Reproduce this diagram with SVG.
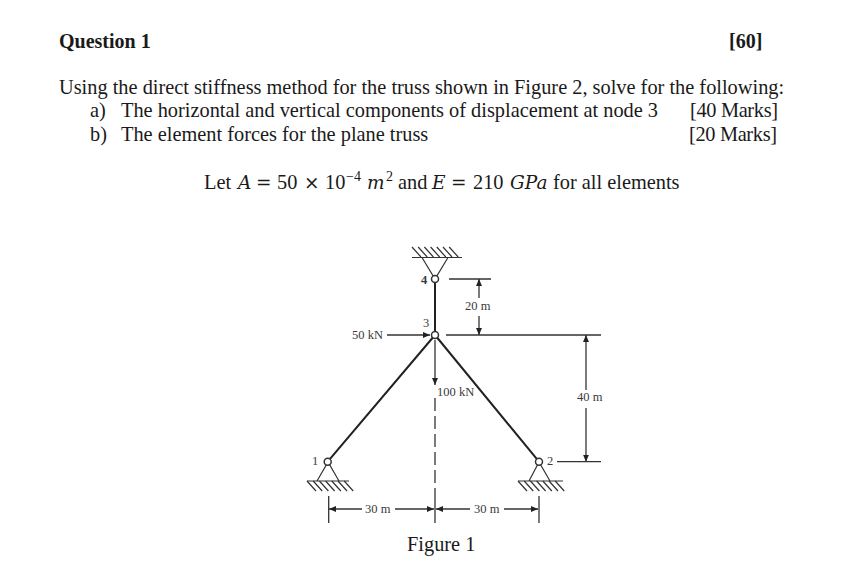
<svg xmlns="http://www.w3.org/2000/svg" width="865" height="578" viewBox="0 0 865 578">
<style>
text{font-family:"Liberation Serif","Times New Roman",serif;fill:#1a1a1a}
.h{font-size:20px;font-weight:bold}
.b{font-size:20.35px}
.m{font-family:"DejaVu Serif","Liberation Serif",serif;font-style:italic;font-size:18.5px}
.u{font-family:"DejaVu Serif","Liberation Serif",serif;font-size:18.5px}
.e{font-size:14px}
.s{font-size:12.5px;fill:#3a3a3a}
.l{fill:none;stroke:#333;stroke-width:1.2}
.t{fill:none;stroke:#222;stroke-width:2}
.d{fill:none;stroke:#333;stroke-width:1.3}
.n{fill:#fff;stroke:#333;stroke-width:1.5}
</style>
<defs>
<marker id="a" markerUnits="userSpaceOnUse" markerWidth="8" markerHeight="7" refX="7" refY="3" orient="auto"><path d="M0 0L7 3L0 6z" fill="#222"/></marker>
<path id="hatch" d="M0 0l9 10M6.200 0l9 10M12.400 0l9 10M18.600 0l9 10M24.800 0l9 10M31 0l9 10M37.200 0l9 10" class="l"/>
</defs>
<rect width="865" height="578" fill="#fff"/>
<g id="question">
<text class="h" x="59" y="48">Question 1</text>
<text class="h" x="729" y="48">[60]</text>
<text class="b" x="59" y="94">Using the direct stiffness method for the truss shown in Figure 2, solve for the following:</text>
<text class="b" x="90" y="117">a)</text>
<text class="b" x="121" y="117" textLength="537">The horizontal and vertical components of displacement at node 3</text>
<text class="b" x="690" y="117" textLength="88">[40 Marks]</text>
<text class="b" x="90" y="141">b)</text>
<text class="b" x="121" y="141">The element forces for the plane truss</text>
<text class="b" x="689" y="141" textLength="88">[20 Marks]</text>
<text class="b" x="204" y="189">Let</text>
<text class="m" x="238" y="189">A</text>
<text class="u" x="256" y="189">=</text>
<text class="b" x="277" y="189">50</text>
<text class="u" x="304" y="189">×</text>
<text class="b" x="325" y="189">10</text>
<text class="b e" x="346" y="181">−4</text>
<text class="m" x="367" y="189">m</text>
<text class="b e" x="386" y="181">2</text>
<text class="b" x="398" y="189">and</text>
<text class="m" x="432" y="189">E</text>
<text class="u" x="451" y="189">=</text>
<text class="b" x="473" y="189">210</text>
<text class="m" x="510" y="189">GPa</text>
<text class="b" x="553" y="189">for all elements</text>
<text class="b" x="407" y="551">Figure 1</text>
</g>
<g id="connectors">
<path class="t" d="M435 279V335M435 335L327.700 461.700M435 335L539 461.700"/>
<path class="d" marker-end="url(#a)" d="M387 335H430"/>
<path class="d" marker-end="url(#a)" d="M435 340V385"/>
<path class="d" stroke-dasharray="13 5" d="M435 398V495"/>
<path class="d" d="M435 495V523M328.700 496V523M539 496V523M449 279H491M446 335H601M557 461.700H601"/>
<path class="d" marker-end="url(#a)" d="M479 298V279"/>
<path class="d" marker-end="url(#a)" d="M479 316V335"/>
<path class="d" marker-end="url(#a)" d="M586 390V335"/>
<path class="d" marker-end="url(#a)" d="M586 408V461.700"/>
<path class="d" marker-end="url(#a)" d="M362 509H329"/>
<path class="d" marker-end="url(#a)" d="M395 509H434"/>
<path class="d" marker-end="url(#a)" d="M470 509H436"/>
<path class="d" marker-end="url(#a)" d="M504 509H538"/>
</g>
<g id="node4">
<use href="#hatch" x="412" y="247"/>
<path class="l" d="M412 257.500H462M422 257.500L435 279L448 257.500"/>
<circle class="n" cx="435" cy="279" r="3.500"/>
<text class="s" x="421" y="284" font-weight="bold">4</text>
</g>
<g id="node3">
<circle class="n" cx="435" cy="335" r="3.500"/>
<text class="s" x="423" y="327">3</text>
</g>
<g id="node1">
<use href="#hatch" x="307" y="481"/>
<path class="l" d="M307 481H349M317 481L328 462L339 481"/>
<circle class="n" cx="327.700" cy="461.700" r="3.500"/>
<text class="s" x="312" y="465">1</text>
</g>
<g id="node2">
<use href="#hatch" x="518" y="481"/>
<path class="l" d="M518 481H563M529 481L539 462L550 481"/>
<circle class="n" cx="539" cy="461.700" r="3.500"/>
<text class="s" x="547" y="465">2</text>
</g>
<g id="labels">
<text class="s" x="352" y="339">50 kN</text>
<text class="s" x="437" y="396">100 kN</text>
<text class="s" x="465" y="310">20 m</text>
<text class="s" x="577" y="401">40 m</text>
<text class="s" x="365" y="513">30 m</text>
<text class="s" x="474" y="513">30 m</text>
</g>
</svg>
